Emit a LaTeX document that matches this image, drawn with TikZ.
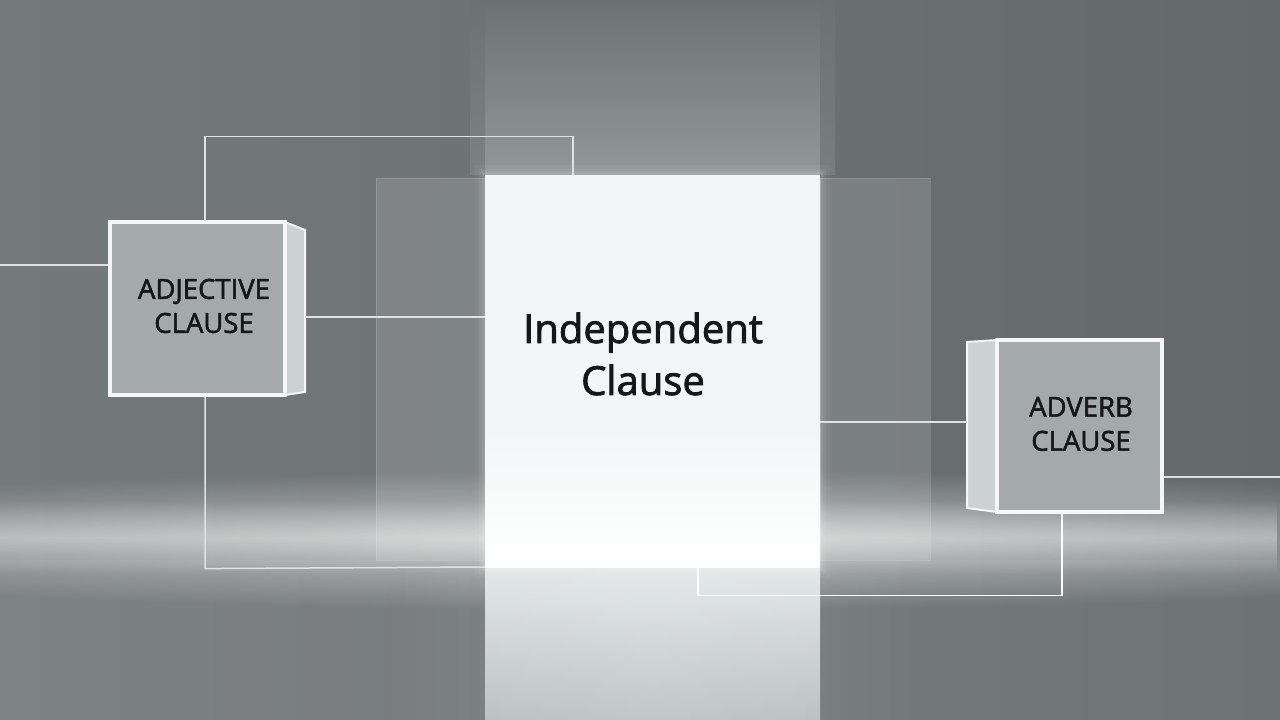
\documentclass[tikz,border=0pt]{standalone}
\usepackage{fontspec}
\setmainfont{Open Sans}
\newfontfamily\labfont[FakeBold=2]{Open Sans}
\usetikzlibrary{fadings,calc}
\definecolor{bgl}{RGB}{116,121,121}
\definecolor{bgm}{RGB}{108,113,113}
\definecolor{bgr}{RGB}{100,106,106}
\definecolor{boxfront}{RGB}{164,169,169}
\definecolor{boxside}{RGB}{204,209,209}
\definecolor{panel}{RGB}{243,246,246}
\definecolor{wire}{RGB}{222,226,226}
\definecolor{ink}{RGB}{20,22,24}
\tikzfading[name=hfade, left color=transparent!100, right color=transparent!100, middle color=transparent!0]
\tikzfading[name=vfade, top color=transparent!100, bottom color=transparent!100, middle color=transparent!0]
\tikzfading[name=radfade, inner color=transparent!0, outer color=transparent!100]
\tikzset{
  wireline/.style={draw=wire, line width=1.5pt},
  frontbox/.style={draw=white!93!gray, line width=3.2pt, fill=boxfront, inner sep=0pt},
  sideface/.style={draw=white!93!gray, line width=2pt, fill=boxside},
  ghost/.style={fill=white, fill opacity=0.12, draw=white, draw opacity=0.15, line width=0.8pt},
  labelsmall/.style={font=\labfont\fontsize{27.5}{34}\selectfont, text=ink, align=center},
  labelbig/.style={font=\labfont\fontsize{40}{52}\selectfont, text=ink, align=center}
}
\begin{document}
\begin{tikzpicture}[x=1pt,y=1pt]
\useasboundingbox (0,0) rectangle (1280,720);
% background
\shade[left color=bgl, right color=bgr] (0,0) rectangle (1280,720);
% light column above the central panel
\shade[top color=bgm, bottom color={rgb,255:red,146;green,152;blue,152}] (485,545) rectangle (820,720);
\shade[top color=bgm, bottom color={rgb,255:red,124;green,130;blue,130}] (470,545) rectangle (485,720);
\shade[top color=bgm, bottom color={rgb,255:red,120;green,126;blue,126}] (820,545) rectangle (835,720);
% below floor
\fill[white, opacity=0.07] (0,0) rectangle (1280,160);
% floor glow band
\fill[white, opacity=0.38, path fading=vfade] (0,146) rectangle (1280,220);
\fill[white, opacity=0.55, path fading=radfade] (650,180) ellipse (1100 and 70);
% ghost panels
\path[ghost] (376,160) rectangle (485,542);
\path[ghost] (820,160) rectangle (930,542);
% reflection below central panel
\shade[top color={rgb,255:red,226;green,231;blue,231}, bottom color={rgb,255:red,186;green,192;blue,192}] (485,0) rectangle (820,152);
\fill[white, opacity=0.10, path fading=hfade] (380,0) rectangle (925,152);
% glow of central panel
\foreach \w/\o in {20/0.04,12/0.06,6/0.10}{
  \draw[white, line width=\w pt, opacity=\o] (485,152) rectangle (820,545);
}
% central panel
\node[fill=panel, minimum width=335pt, minimum height=393pt, inner sep=0pt] (ind) at (652.5,348.5) {};
\shade[top color=panel, bottom color=white] (485,152) rectangle (820,290);
\node[labelbig] at (643,366) {Independent\\Clause};
% adjective box
\path[sideface] (285,498) -- (305,490) -- (305,328) -- (285,325) -- cycle;
\node[frontbox, minimum width=175pt, minimum height=173pt] (adj) at (197.5,411.5) {};
\node[labelsmall] at (204,414) {ADJECTIVE\\CLAUSE};
% adverb box
\path[sideface] (967,378) -- (997,380) -- (997,208) -- (967,212) -- cycle;
\node[frontbox, minimum width=165pt, minimum height=172pt] (adv) at (1079.5,294) {};
\node[labelsmall] at (1081,296) {ADVERB\\CLAUSE};
% connectors
\coordinate (lend) at (0,455);
\coordinate (rend) at (1280,243);
\draw[wireline] (lend) -- (lend -| adj.west);
\draw[wireline] ([xshift=7.5pt]adj.north) -- ++(0,84) -| ([xshift=-79.5pt]ind.north);
\draw[wireline] (305,403) -- (ind.west |- 0,403);
\draw[wireline] ([xshift=7.5pt]adj.south) -- ++(0,-172) -- (ind.west |- 0,153);
\draw[wireline] (ind.east |- 0,298) -- (967,298);
\draw[wireline] (adv.east |- rend) -- (rend);
\draw[wireline, draw=white] ([xshift=-17.5pt]adv.south) -- ++(0,-82) -| ([xshift=45.5pt]ind.south);
\end{tikzpicture}
\end{document}
